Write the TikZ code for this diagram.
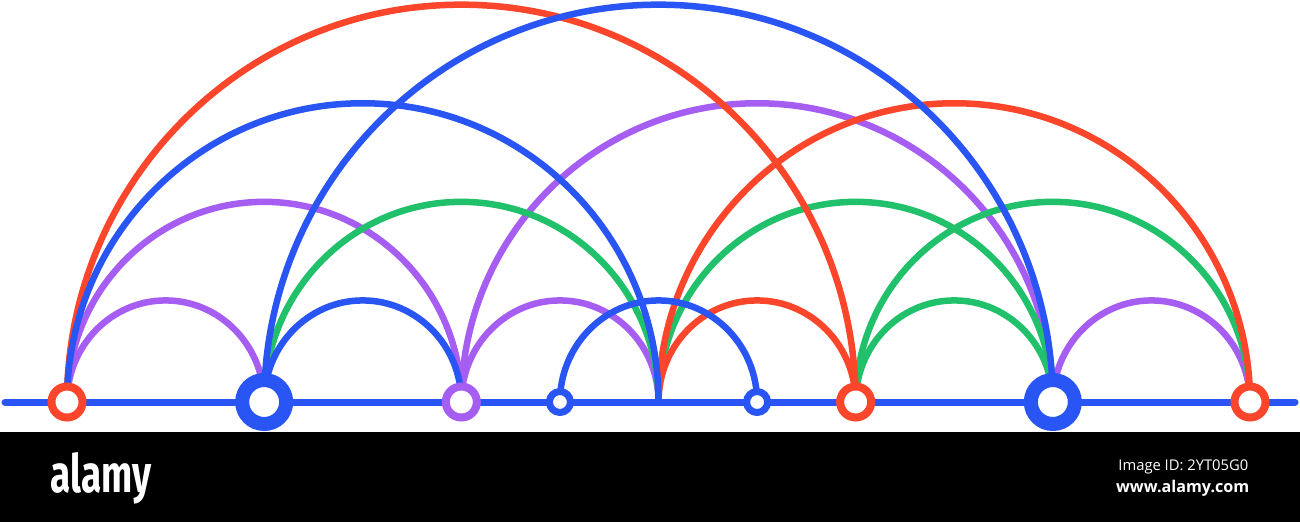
\documentclass[tikz,border=0pt]{standalone}
\usepackage{fontspec}
\newfontfamily\logofont{Fira Sans}
\newfontfamily\idfont{Open Sans}
\usetikzlibrary{calc,backgrounds}

\definecolor{arcred}{HTML}{FB462B}
\definecolor{arcblue}{HTML}{2A55F5}
\definecolor{arcpurple}{HTML}{A65DF2}
\definecolor{arcgreen}{HTML}{21C06A}

\tikzset{
  halfarc/.style={to path={let \p1=($(\tikztotarget)-(\tikztostart)$) in arc[start angle=180, end angle=0, x radius={0.5*\x1}, y radius={0.5*\x1+0.03cm}]}},
  ringdot/.style={draw, circle, fill=white, inner sep=0pt, minimum size=0.31cm, line width=0.08cm},
  bigring/.style={draw, circle, fill=white, inner sep=0pt, minimum size=0.44cm, line width=0.14cm},
  smallring/.style={draw, circle, fill=white, inner sep=0pt, minimum size=0.21cm, line width=0.07cm},
  arcline/.style={line width=0.065cm}
}

\begin{document}
\begin{tikzpicture}[node distance=0.9858cm]
\useasboundingbox (0,0) rectangle (13,5.22);
\node  (1)[ringdot, draw=arcred] at (0.67,1.20) {};
\node  (2)[bigring, draw=arcblue] [  right of = 1, node distance=1.9717cm] {};
\node  (3)[ringdot, draw=arcpurple] [  right of = 2, node distance=1.9717cm] {};
\node  (4)[smallring, draw=arcblue] [  right of = 3] {};
\node  (5)[coordinate] [  right of = 4] {};
\node  (6)[smallring, draw=arcblue] [  right of = 5] {};
\node  (7)[ringdot, draw=arcred] [  right of = 6] {};
\node  (8)[bigring, draw=arcblue] [  right of = 7, node distance=1.9717cm] {};
\node  (9)[ringdot, draw=arcred] [  right of = 8, node distance=1.9717cm] {};
\coordinate (l) at (0.05,1.20);
\coordinate (r) at (12.95,1.20);
\node  (logo)[anchor=base west, text=white, inner sep=0pt] at (0.50,0.30) {\scalebox{0.70}[1]{\fontsize{15}{16}\logofont\bfseries alamy}};
\node  (imgid)[anchor=base east, text=white, inner sep=0pt] at (12.49,0.52) {\fontsize{4.2}{5}\idfont Image ID: 2YT05G0};
\node  (site)[anchor=base east, text=white, inner sep=0pt] at (12.50,0.30) {\fontsize{4.6}{5}\idfont\bfseries www.alamy.com};
\begin{scope}[on background layer]
\fill[white] (0,0.90) rectangle (13,5.22);
\fill[black] (0,0) rectangle (13,0.90);
\draw[arcline, color=arcpurple] (1.center) to[halfarc] (2.center);
\draw[arcline, color=arcpurple] (1.center) to[halfarc] (3.center);
\draw[arcline, color=arcpurple] (3.center) to[halfarc] (5);
\draw[arcline, color=arcpurple] (3.center) to[halfarc] (8.center);
\draw[arcline, color=arcpurple] (8.center) to[halfarc] (9.center);
\draw[arcline, color=arcgreen] (2.center) to[halfarc] (5);
\draw[arcline, color=arcgreen] (5) to[halfarc] (8.center);
\draw[arcline, color=arcgreen] (7.center) to[halfarc] (8.center);
\draw[arcline, color=arcgreen] (7.center) to[halfarc] (9.center);
\draw[arcline, color=arcred] (1.center) to[halfarc] (7.center);
\draw[arcline, color=arcred] (5) to[halfarc] (7.center);
\draw[arcline, color=arcred] (5) to[halfarc] (9.center);
\draw[arcline, color=arcblue] (1.center) to[halfarc] (5);
\draw[arcline, color=arcblue] (2.center) to[halfarc] (3.center);
\draw[arcline, color=arcblue] (2.center) to[halfarc] (8.center);
\draw[arcline, color=arcblue] (4.center) to[halfarc] (6.center);
\draw[color=arcblue, line width=0.07cm, line cap=round] (l) -- (r);
\end{scope}
\end{tikzpicture}
\end{document}
